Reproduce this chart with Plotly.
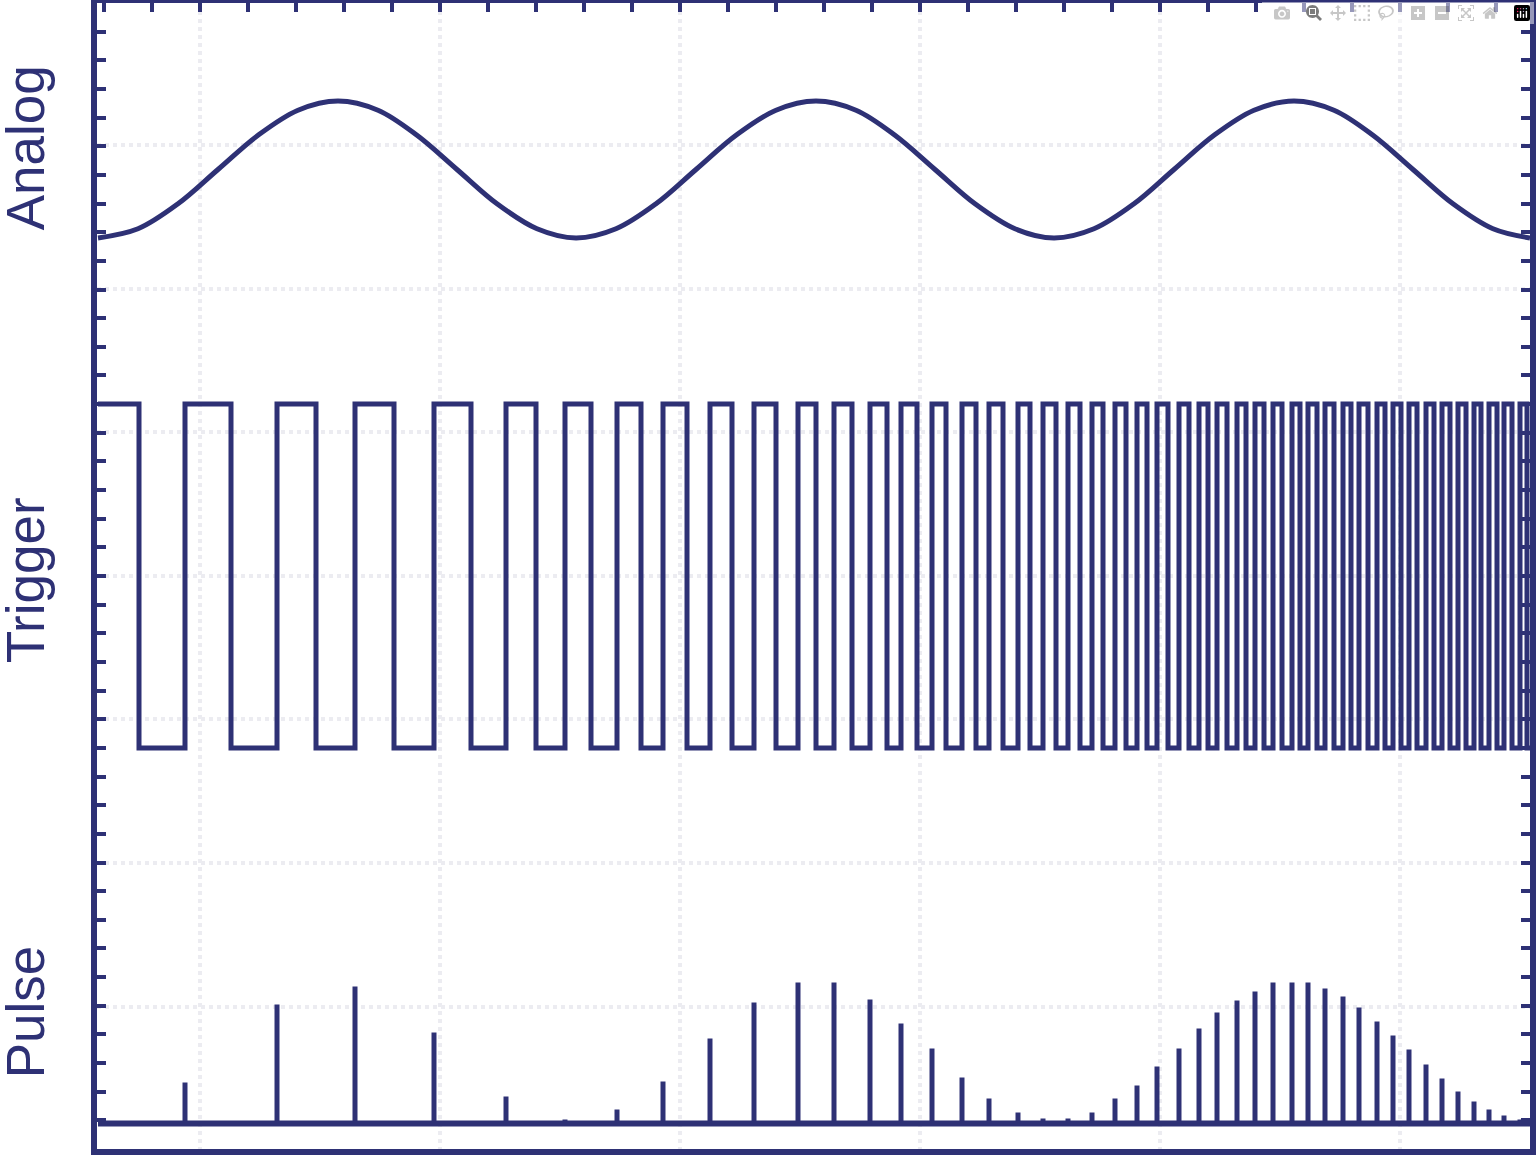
import plotly.graph_objects as go

C = "#2e3175"

# Coordinates are in the chart's own units: x from 97 (left) to 1530 (right), y from 3 (top) to 1149 (bottom)
analog_x = [98, 138, 178, 218, 258, 298, 338, 378, 417, 457, 497, 537, 576, 616, 656, 696, 736, 776,
            816, 856, 895, 935, 975, 1015, 1054, 1094, 1134, 1174, 1214, 1254, 1294, 1334, 1373, 1413,
            1453, 1493, 1530]
analog_y = [238, 228.8, 203.8, 169.5, 135.3, 110.2, 101, 110.2, 135.3, 169.5, 203.8, 228.8,
            238, 228.8, 203.8, 169.5, 135.3, 110.2, 101, 110.2, 135.3, 169.5, 203.8, 228.8,
            238, 228.8, 203.8, 169.5, 135.3, 110.2, 101, 110.2, 135.3, 169.5, 203.8, 228.8, 238]
trigger_fall = [139, 231, 316, 394, 471, 536, 591, 641, 687, 732, 776, 816, 852, 887, 917, 946, 976, 1003,
                1030, 1056, 1080, 1103, 1126, 1147, 1168, 1189, 1208, 1227, 1246, 1264, 1282, 1300, 1317,
                1334, 1351, 1368, 1385, 1401, 1417, 1434, 1450, 1466, 1481, 1497, 1512, 1527]
trigger_rise = [185, 277, 355, 434, 506, 565, 617, 663, 710, 754, 798, 834, 870, 901, 932, 962, 989, 1018,
                1043, 1068, 1092, 1115, 1137, 1157, 1179, 1199, 1217, 1237, 1255, 1273, 1292, 1308, 1325,
                1343, 1359, 1377, 1393, 1409, 1426, 1442, 1458, 1474, 1489, 1504, 1520]
trigger_high = 404
trigger_low = 748
pulse_heights = [41, 119, 137, 91, 27, 4, 14, 42, 85, 121, 141, 141, 124, 100, 75, 46, 25, 11,
                 5, 5, 11, 25, 38, 57, 75, 95, 111, 123, 132, 141, 141, 141, 135, 127, 116, 102,
                 88, 74, 59, 45, 32, 22, 14, 8, 4]
pulse_base = 1123.5
x_start, x_end = 98, 1530
labels = ["Analog", "Trigger", "Pulse"]
label_y = [148, 580, 1012]

tx, ty = [x_start], [trigger_high]
for i, f in enumerate(trigger_fall):
    tx += [f, f]; ty += [trigger_high, trigger_low]
    if i < len(trigger_rise):
        r = trigger_rise[i]
        tx += [r, r]; ty += [trigger_low, trigger_high]
tx.append(x_end); ty.append(trigger_low)

px, py = [], []
for r, h in zip(trigger_rise, pulse_heights):
    px += [r, r, None]; py += [pulse_base, pulse_base - h, None]

fig = go.Figure()
fig.add_trace(go.Scatter(x=analog_x, y=analog_y, mode="lines", line=dict(color=C, width=5, shape="spline")))
fig.add_trace(go.Scatter(x=tx, y=ty, mode="lines", line=dict(color=C, width=5)))
fig.add_trace(go.Scatter(x=px, y=py, mode="lines", line=dict(color=C, width=5)))
fig.add_trace(go.Scatter(x=[x_start, x_end], y=[pulse_base, pulse_base], mode="lines", line=dict(color=C, width=6)))

for txt, yc in zip(labels, label_y):
    fig.add_annotation(x=-0.05, y=yc, xref="paper", yref="y", text=txt, textangle=-90, showarrow=False,
                       xanchor="center", yanchor="middle",
                       font=dict(family="Liberation Sans, Arial", size=53, color=C))

G = "#ececf1"
fig.update_layout(
    width=1536, height=1155, margin=dict(l=97, r=6, t=3, b=6, autoexpand=False),
    paper_bgcolor="white", plot_bgcolor="white", showlegend=False,
    xaxis=dict(range=[97, 1530], showline=True, linewidth=6, linecolor=C,
               showgrid=True, gridcolor=G, gridwidth=4, griddash="dot", tick0=200, dtick=240,
               ticks="", showticklabels=False, zeroline=False),
    xaxis2=dict(range=[97, 1530], overlaying="x", side="top", showline=True, linewidth=6, linecolor=C,
                ticks="inside", ticklen=9, tickwidth=4, tickcolor=C, tick0=200, dtick=48,
                showticklabels=False, showgrid=False, zeroline=False),
    yaxis=dict(range=[1149, 3], showline=True, linewidth=6, linecolor=C,
               ticks="inside", ticklen=9, tickwidth=4, tickcolor=C, tick0=3, dtick=28.65,
               showticklabels=False, showgrid=False, zeroline=False),
    yaxis2=dict(range=[1149, 3], overlaying="y", side="right", showline=True, linewidth=6, linecolor=C,
                ticks="inside", ticklen=9, tickwidth=4, tickcolor=C, tick0=3, dtick=28.65,
                showticklabels=False, showgrid=False, zeroline=False),
    yaxis3=dict(range=[1149, 3], overlaying="y", showline=False, ticks="", showticklabels=False,
                showgrid=True, gridcolor=G, gridwidth=4, griddash="dot", tick0=145, dtick=143.6,
                zeroline=False),
)
fig.add_trace(go.Scatter(x=[None], y=[None], xaxis="x2", yaxis="y2", hoverinfo="skip"))
fig.add_trace(go.Scatter(x=[None], y=[None], xaxis="x", yaxis="y3", hoverinfo="skip"))
fig.write_html("out.html", post_script="document.body.style.margin='0';document.body.style.overflow='hidden';")
